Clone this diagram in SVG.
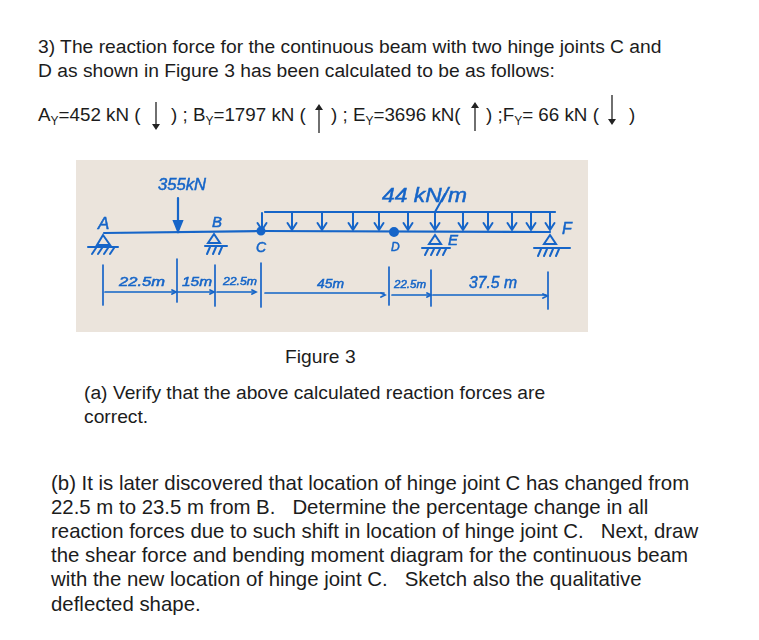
<svg xmlns="http://www.w3.org/2000/svg" width="759" height="640" viewBox="0 0 759 640">
<defs>
<filter id="soft" x="-5%" y="-5%" width="110%" height="110%"><feGaussianBlur stdDeviation="0.35"/></filter>
<path id="down" d="M0,0V17M-4.500,10L0,17L4.500,10" fill="none"/>
</defs>
<style>
.t{font-family:"Liberation Sans",Arial,sans-serif;font-size:19.250px;fill:#1c1c1c;white-space:pre}
.r{font-size:18.800px}
.b{font-size:20.400px}
.s{font-size:12px}
.h{font-family:"Liberation Sans",Arial,sans-serif;font-style:italic;fill:#1565c8;stroke:#1565c8;stroke-width:0.500}
.ink{fill:none;stroke:#1565c8;stroke-width:2;stroke-linecap:round}
.blk{fill:none;stroke:#222;stroke-width:1.300}
</style>
<rect width="759" height="640" fill="#fff"/>
<g id="question">
<text class="t" x="38" y="53">3) The reaction force for the continuous beam with two hinge joints C and</text>
<text class="t" x="38" y="77">D as shown in Figure 3 has been calculated to be as follows:</text>
<text class="t r" x="38" y="121">A<tspan class="s" dy="4">Y</tspan><tspan dy="-4">=452 kN (</tspan></text>
<text class="t r" x="171" y="121">) ; B<tspan class="s" dy="4">Y</tspan><tspan dy="-4">=1797 kN (</tspan></text>
<text class="t r" x="331" y="121">) ; E<tspan class="s" dy="4">Y</tspan><tspan dy="-4">=3696 kN(</tspan></text>
<text class="t r" x="486" y="121">) ;F<tspan class="s" dy="4">Y</tspan><tspan dy="-4">= 66 kN (</tspan></text>
<text class="t r" x="629" y="121">)</text>
<g class="blk">
<path d="M156,102V127"/><path d="M319,133V108"/><path d="M475,131V106"/><path d="M612,95V121"/>
</g>
<path d="M152,124L156,130L160,124ZM315,110L319,104L323,110ZM471,108L475,102L479,108ZM608,119L612,125L616,119Z" fill="#222"/>
</g>
<g id="figure">
<rect x="76" y="160" width="512" height="172" fill="#ebe4dc"/>
<g filter="url(#soft)">
<g id="beam" class="ink" style="stroke-width:2.200">
<path d="M104,233L262,231L550,232"/>
<path d="M265,212H555"/>
</g>
<g id="load-arrows" class="ink">
<use href="#down" x="262" y="213"/><use href="#down" x="292" y="213"/><use href="#down" x="322" y="213"/>
<use href="#down" x="353" y="213"/><use href="#down" x="379" y="213"/><use href="#down" x="408" y="213"/>
<use href="#down" x="435" y="213"/><use href="#down" x="463" y="213"/><use href="#down" x="488" y="213"/>
<use href="#down" x="512" y="213"/><use href="#down" x="531" y="213"/><use href="#down" x="550" y="213"/>
<path d="M435,212L445,194" />
</g>
<g id="point-load" class="ink" style="stroke-width:2.200">
<path d="M178,198V230"/>
<path d="M174,221L178,231L182,221Z" fill="#1565c8"/>
</g>
<g id="node-A" class="ink">
<path d="M103,235L97,245H110Z"/><path d="M88,247H118M96,248L92,254M102,248L98,254M108,248L104,254M114,248L110,254"/>
<text class="h" x="98" y="229" font-size="17">A</text>
</g>
<g id="node-B" class="ink">
<path d="M214,234L208,243H220Z"/><path d="M205,246H227M210,247L207,254M216,247L213,254M222,247L219,254"/>
<text class="h" x="212" y="227" font-size="15">B</text>
</g>
<g id="node-C" class="ink">
<circle cx="261" cy="231" r="3.500" fill="#1565c8"/>
<text class="h" x="256" y="252" font-size="14">C</text>
</g>
<g id="node-D" class="ink">
<circle cx="394" cy="232" r="4" fill="#1565c8"/>
<text class="h" x="391" y="251" font-size="12">D</text>
</g>
<g id="node-E" class="ink">
<path d="M435,235L429,244H441Z"/><path d="M422,248H450M428,249L425,255M434,249L431,255M440,249L437,255M446,249L443,255"/>
<text class="h" x="448" y="245" font-size="15">E</text>
</g>
<g id="node-F" class="ink">
<path d="M550,235L544,244H556Z"/><path d="M534,248H570M541,249L538,256M547,249L544,256M553,249L550,256M559,249L556,256"/>
<text class="h" x="562" y="234" font-size="16">F</text>
</g>
<g id="dimensions" class="ink" style="stroke-width:1.700">
<path d="M103,265V305M177,259V302M215,265V306M261,263V307M389,267V305M431,270V306M548,272V309"/>
<path d="M105,292H175M178,292H213M217,292H255M265,293H384M392,295H429M433,295H546"/>
<path d="M172,290L176,292L172,294M210,290L214,292L210,294M252,290L256,292L252,294M381,293L385,295L381,297M427,293L431,295L427,297M543,294L547,296L543,298"/>
</g>
<g id="labels">
<text class="h" x="158" y="190" font-size="17" textLength="48" lengthAdjust="spacingAndGlyphs">355kN</text>
<text class="h" x="382" y="202" font-size="21" textLength="85" lengthAdjust="spacingAndGlyphs">44 kN/m</text>
<text class="h" x="119" y="286" font-size="13" textLength="46" lengthAdjust="spacingAndGlyphs">22.5m</text>
<text class="h" x="182" y="286" font-size="13" textLength="30" lengthAdjust="spacingAndGlyphs">15m</text>
<text class="h" x="223" y="285" font-size="11" textLength="34" lengthAdjust="spacingAndGlyphs">22.5m</text>
<text class="h" x="317" y="288" font-size="13" textLength="27" lengthAdjust="spacingAndGlyphs">45m</text>
<text class="h" x="394" y="288" font-size="11" textLength="32" lengthAdjust="spacingAndGlyphs">22.5m</text>
<text class="h" x="469" y="288" font-size="16" textLength="48" lengthAdjust="spacingAndGlyphs">37.5 m</text>
</g>
</g>
</g>
<g id="answers">
<text class="t" x="285" y="363">Figure 3</text>
<text class="t" x="84" y="399">(a) Verify that the above calculated reaction forces are</text>
<text class="t" x="84" y="423">correct.</text>
<text class="t b" x="51" y="490">(b) It is later discovered that location of hinge joint C has changed from</text>
<text class="t b" x="51" y="514">22.5 m to 23.5 m from B.   Determine the percentage change in all</text>
<text class="t b" x="51" y="538">reaction forces due to such shift in location of hinge joint C.   Next, draw</text>
<text class="t b" x="51" y="562">the shear force and bending moment diagram for the continuous beam</text>
<text class="t b" x="51" y="586">with the new location of hinge joint C.   Sketch also the qualitative</text>
<text class="t b" x="51" y="611">deflected shape.</text>
</g>
</svg>
